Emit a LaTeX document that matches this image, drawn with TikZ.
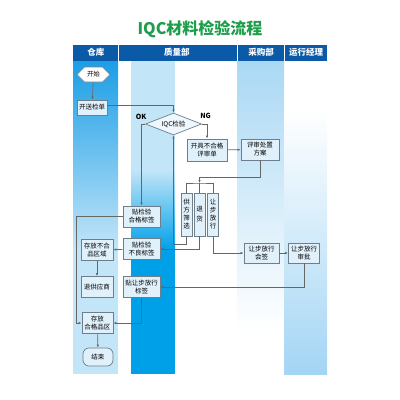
\documentclass[tikz,border=0pt]{standalone}
\usepackage{fontspec}
\setmainfont{Noto Sans CJK SC}
\usepackage{tikz}
\usetikzlibrary{arrows.meta,shapes.symbols,shapes.geometric}
\definecolor{head}{HTML}{0B5AA8}
\definecolor{title}{HTML}{1C9E4A}
\definecolor{bright}{HTML}{1A9EE6}
\definecolor{pale}{HTML}{C2E5F8}
\definecolor{deep}{HTML}{00A0E9}
\definecolor{buy}{HTML}{A9D8F4}
\definecolor{mgr}{HTML}{A3D5F4}
\definecolor{boxfill}{HTML}{E1F1FB}
\definecolor{boxline}{HTML}{6E7E8A}
\definecolor{wire}{HTML}{666666}
\tikzset{
  box/.style={draw=boxline, fill=boxfill, line width=0.7pt, align=center, inner sep=1pt,
    font=\fontsize{6.5}{8}\selectfont, minimum height=21pt},
  vbox/.style={box, text width=7pt, minimum width=11pt, minimum height=43pt},
  wire/.style={draw=wire, line width=0.6pt},
  arr/.style={wire, -{Latex[length=3pt,width=2.4pt]}},
  lane/.style={text=white, font=\fontsize{8.5}{9}\bfseries\selectfont},
  tag/.style={font=\fontsize{7}{8}\bfseries\selectfont}
}
\begin{document}
\begin{tikzpicture}[x=1pt, y=-1pt]
  \useasboundingbox (0,0) rectangle (400,400);

  \shade[top color=bright, bottom color=pale] (73,60) rectangle (118,250);
  \fill[pale] (73,249.5) rectangle (118,374);
  \fill[pale] (131,60) rectangle (175,170.5);
  \shade[top color=pale, bottom color=deep] (131,170) rectangle (175,250);
  \fill[deep] (131,249.5) rectangle (175,374);
  \shade[top color=buy, bottom color=white] (237,60) rectangle (284,330);
  \shade[top color=white, bottom color=mgr] (284,110) rectangle (327,374);

  \fill[head] (73,45) rectangle (327,60.5);
  \foreach \x in {118,237,284}
    \draw[white, line width=0.8pt] (\x,45) -- (\x,60.5);
  \node[lane] (l1) at (96,52.5) {仓库};
  \node[lane] (l2) at (177,52.5) {质量部};
  \node[lane] (l3) at (261,52.5) {采购部};
  \node[lane] (l4) at (306,52.5) {运行经理};
  \node[text=title, font=\fontsize{16}{18}\bfseries\selectfont] (ttl) at (200,29.5) {IQC材料检验流程};

  \node[signal, signal to=east and west, draw=boxline, fill=white, line width=0.7pt,
    font=\fontsize{6.5}{8}\selectfont, minimum width=33pt, minimum height=15pt, inner sep=1pt] (start) at (93.5,74.5) {开始};
  \node[box, minimum width=30pt, minimum height=15pt] (send) at (92,107.5) {开送检单};
  \node[diamond, draw=boxline, fill=boxfill!60!white, line width=0.7pt, aspect=2.5, inner sep=0pt,
    font=\fontsize{6.5}{8}\selectfont, minimum width=56pt, minimum height=22pt] (iqc) at (173.5,124) {IQC检验};
  \node[tag] (ok) at (141,117) {OK};
  \node[tag] (ng) at (205.5,116) {NG};
  \node[box, minimum width=40pt, minimum height=22pt] (ngform) at (207,150) {开具不合格\\评审单};
  \node[box, minimum width=38pt] (plan) at (260,149.5) {评审处置\\方案};
  \node[vbox] (screen) at (186.5,214.5) {供\\方\\筛\\选};
  \node[vbox] (back) at (199.5,214.5) {退\\[2pt]货};
  \node[vbox] (concede) at (213,214.5) {让\\步\\放\\行};
  \node[box, minimum width=37pt] (oktag) at (141.5,216.5) {贴检验\\合格标签};
  \node[box, minimum width=37pt] (badtag) at (141.5,249) {贴检验\\不良标签};
  \node[box, minimum width=37pt] (contag) at (141.5,287) {贴让步放行\\标签};
  \node[box, minimum width=32pt] (ngarea) at (97,250) {存放不合\\品区域};
  \node[box, minimum width=32pt] (retsup) at (97,287) {退供应商};
  \node[box, minimum width=31pt] (okarea) at (97.5,323) {存放\\合格品区};
  \node[box, rounded corners=6pt, minimum width=30pt, minimum height=18pt] (end) at (98,357) {结束};
  \node[box, minimum width=35pt, minimum height=20pt] (sign) at (261.5,253) {让步放行\\会签};
  \node[box, minimum width=31pt, minimum height=20pt] (approve) at (304,253) {让步放行\\审批};
  \coordinate (join) at (199.5,183);

  \draw[arr] (start) -- (send);
  \draw[arr] ([yshift=2.5pt]send.east) -| (iqc.north);
  \draw[arr] (iqc.west) -| (oktag.north);
  \draw[arr] (iqc.east) -| (ngform.north);
  \draw[arr] (ngform) -- (plan);
  \draw[arr] (plan.south) -- ++(0,17) -| (join);
  \draw[wire] (screen.north) |- (join) -| (concede.north);
  \draw[wire] (join) -- (back.north);
  \draw[arr] (screen.south) -- ++(0,8) -| (iqc.south);
  \draw[arr] (back.south) |- (badtag.east);
  \draw[arr] (concede.south) |- (sign.west);
  \draw[arr] (sign) -- (approve);
  \draw[arr] (approve.south) |- (contag.east);
  \draw[arr] (badtag) -- (ngarea);
  \draw[arr] (ngarea) -- (retsup);
  \draw[arr] (oktag.west) -- ++(-46,0) |- (okarea.west);
  \draw[arr] (contag.south) |- (okarea.east);
  \draw[arr] (okarea) -- (end);
\end{tikzpicture}
\end{document}
